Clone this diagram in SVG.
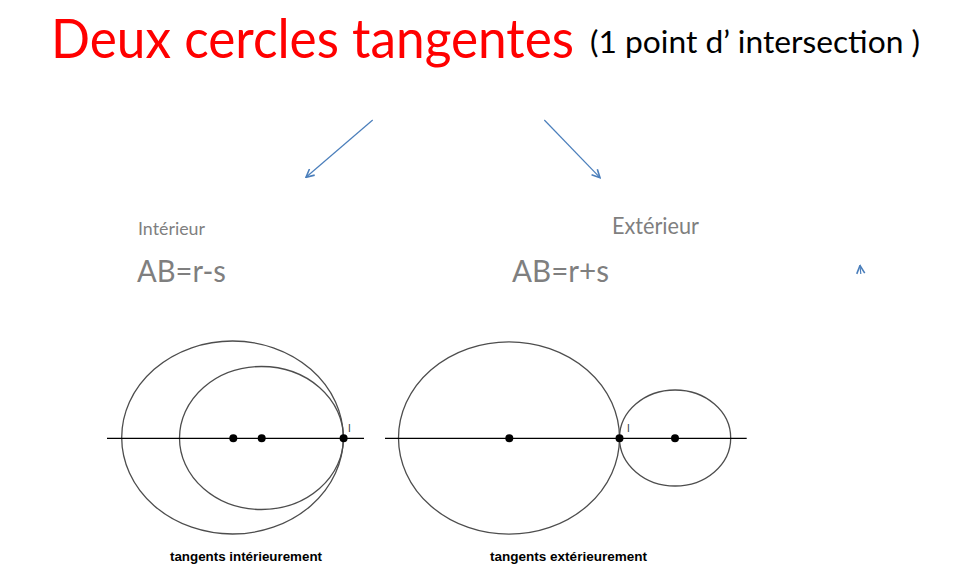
<svg xmlns="http://www.w3.org/2000/svg" width="977" height="582" viewBox="0 0 977 582">
<defs>
<style>
.ttl{font-family:Lato,"Open Sans","Liberation Sans",sans-serif;}
.gray{fill:#7f7f7f;}
.circ{fill:none;stroke:#4d4d4d;stroke-width:1.3;}
.axis{stroke:#000;stroke-width:1.3;}
.dot{fill:#000;}
.cap{font-family:"Liberation Sans",Arial,sans-serif;font-weight:bold;font-size:12px;fill:#000;}
.ilbl{font-family:"Liberation Sans",Arial,sans-serif;font-size:10px;fill:#333;}
.arr{stroke:#4a7ebb;stroke-width:1.2;fill:none;}
</style>
<marker id="ah" viewBox="0 0 10 10" refX="9" refY="5" markerWidth="10" markerHeight="10" markerUnits="userSpaceOnUse" orient="auto">
<path d="M1,1 L9,5 L1,9" fill="none" stroke="#4a7ebb" stroke-width="1.6"/>
</marker>
</defs>
<rect width="977" height="582" fill="#fff"/>

<g id="title">
<text class="ttl" x="51" y="58" font-size="55" fill="#ff0000" textLength="523" lengthAdjust="spacingAndGlyphs">Deux cercles tangentes</text>
<text class="ttl" x="590" y="53" font-size="30" fill="#000" textLength="330" lengthAdjust="spacingAndGlyphs">(1 point d’ intersection )</text>
</g>

<g id="connectors">
<line class="arr" x1="372.7" y1="120" x2="306" y2="177.3" marker-end="url(#ah)"/>
<line class="arr" x1="544.3" y1="120" x2="600" y2="177.7" marker-end="url(#ah)"/>
<line class="arr" x1="860.8" y1="274" x2="860" y2="265.5" marker-end="url(#ah)"/>
</g>

<g id="interieur-label">
<text class="ttl gray" x="138" y="235" font-size="18" textLength="67" lengthAdjust="spacingAndGlyphs">Intérieur</text>
<text class="ttl gray" x="137" y="282" font-size="31" textLength="89" lengthAdjust="spacingAndGlyphs">AB=r-s</text>
</g>

<g id="exterieur-label">
<text class="ttl gray" x="612" y="234" font-size="23" textLength="87" lengthAdjust="spacingAndGlyphs">Extérieur</text>
<text class="ttl gray" x="512" y="282" font-size="31" textLength="97" lengthAdjust="spacingAndGlyphs">AB=r+s</text>
</g>

<g id="figure-interieur">
<ellipse class="circ" cx="232.5" cy="437.5" rx="110.8" ry="96.5"/>
<ellipse class="circ" cx="261.5" cy="438" rx="82" ry="71.5"/>
<line class="axis" x1="107" y1="438.3" x2="364" y2="438.3"/>
<circle class="dot" cx="233.3" cy="438.3" r="4"/>
<circle class="dot" cx="261.7" cy="438.3" r="4"/>
<circle class="dot" cx="343.6" cy="438.3" r="4"/>
<text class="ilbl" x="348" y="432">I</text>
<text class="cap" x="170" y="561" textLength="152" lengthAdjust="spacingAndGlyphs">tangents intérieurement</text>
</g>

<g id="figure-exterieur">
<ellipse class="circ" cx="509" cy="438" rx="110.5" ry="96.2"/>
<ellipse class="circ" cx="675.1" cy="438" rx="55.6" ry="48"/>
<line class="axis" x1="385" y1="438.3" x2="746.7" y2="438.3"/>
<circle class="dot" cx="509.3" cy="438.3" r="4"/>
<circle class="dot" cx="619.5" cy="438.3" r="4"/>
<circle class="dot" cx="675" cy="438.3" r="4"/>
<text class="ilbl" x="627" y="432">I</text>
<text class="cap" x="490" y="561" textLength="157" lengthAdjust="spacingAndGlyphs">tangents extérieurement</text>
</g>
</svg>
